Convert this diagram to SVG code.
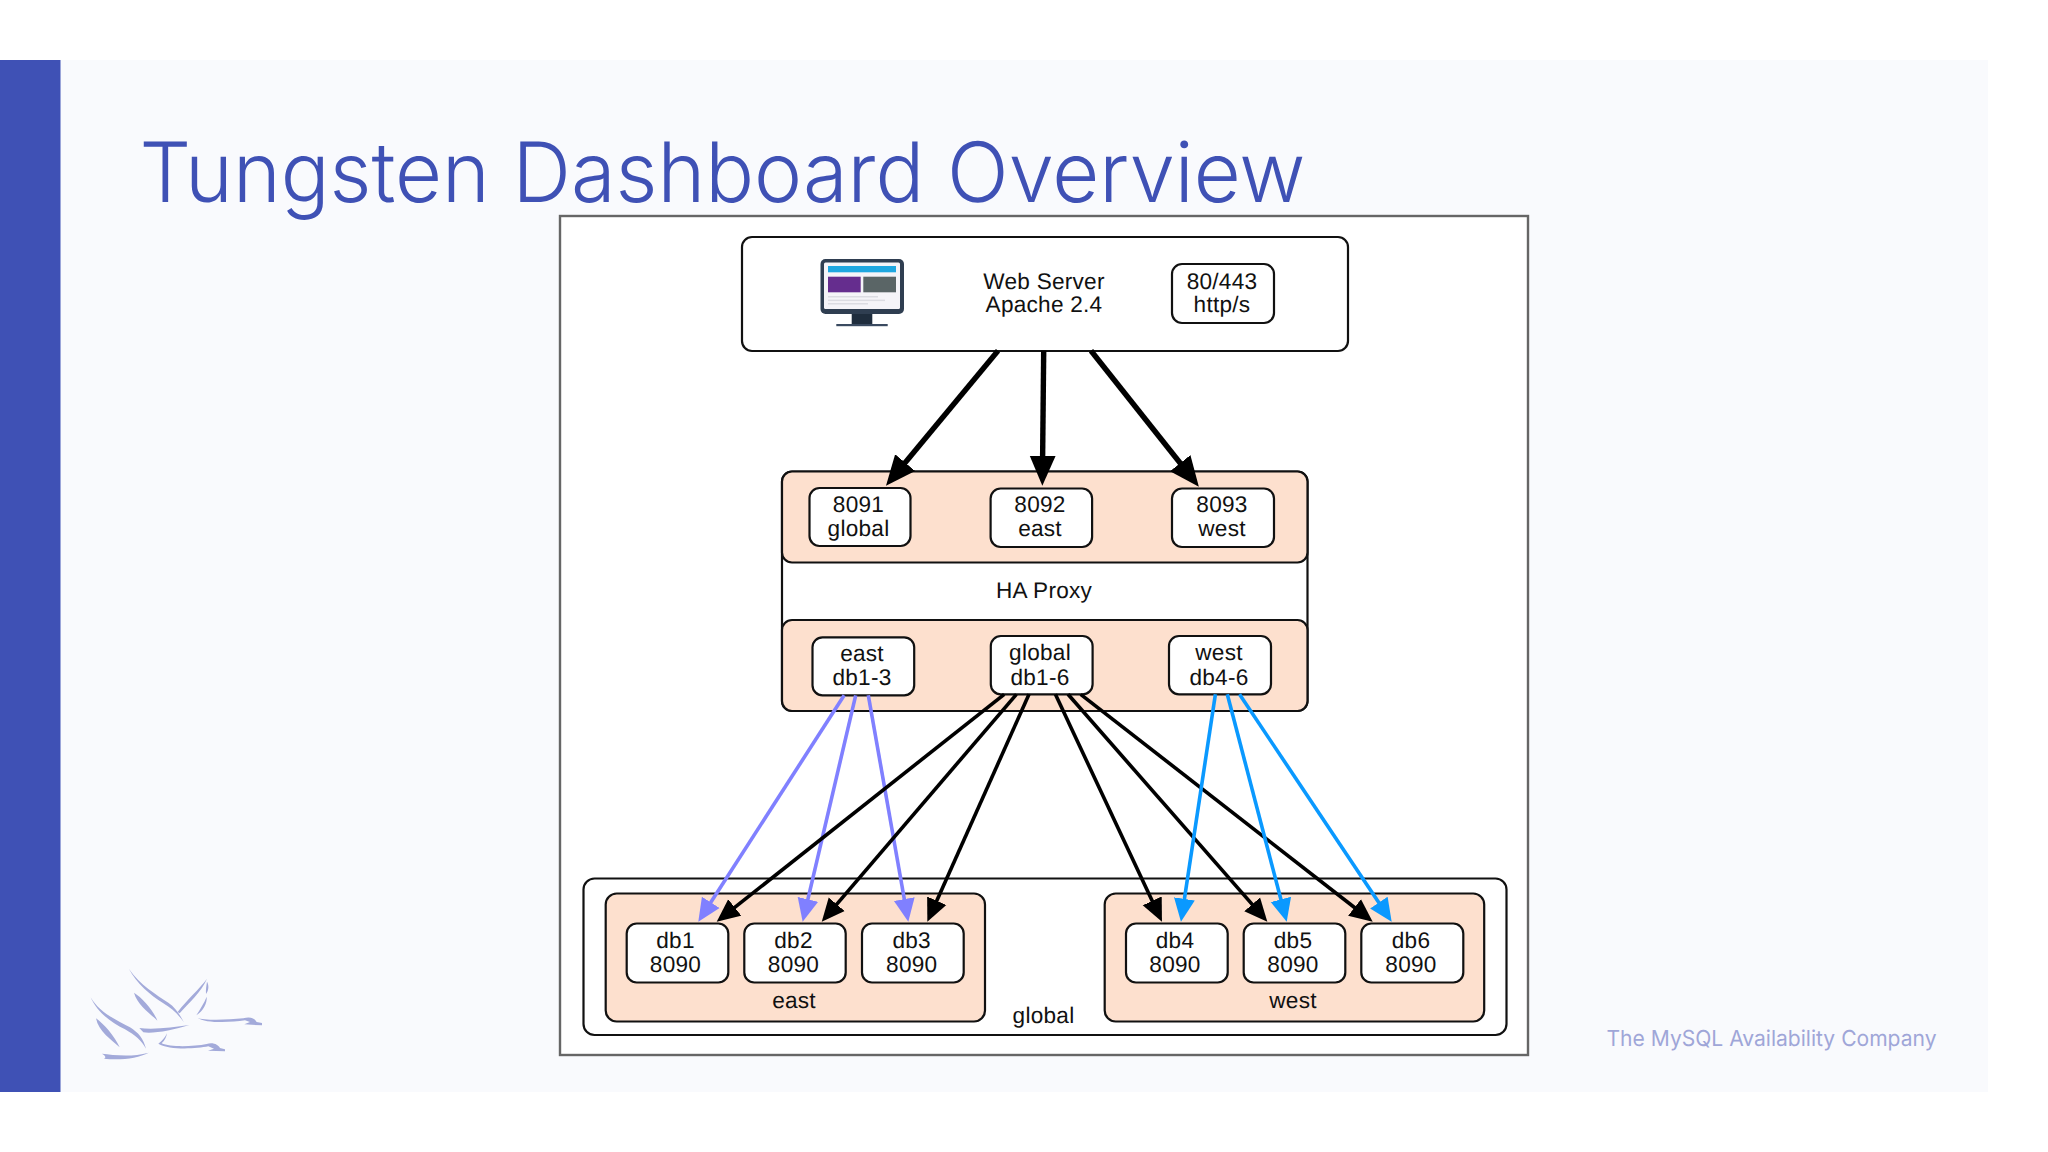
<svg xmlns="http://www.w3.org/2000/svg" width="2048" height="1152" viewBox="0 0 2048 1152">
<style>
text{font-family:"Liberation Sans",Arial,sans-serif;font-size:22.6px;letter-spacing:.25px;fill:#111;text-anchor:middle;text-rendering:geometricPrecision}
.title{font-family:Inter,Lato,"Noto Sans",sans-serif;font-weight:300;font-size:83px;letter-spacing:0;fill:#3f51b5;text-anchor:start}
.foot{font-family:Inter,Lato,"Noto Sans",sans-serif;font-weight:400;font-size:22px;letter-spacing:0;fill:#9fa6d8;text-anchor:start}
.box{fill:#fff;stroke:#111;stroke-width:2.2}
.peach{fill:#fde0ce;stroke:#111;stroke-width:2.2}
.frame{fill:#fff;stroke:#666;stroke-width:2.4}
.c{fill:none;stroke-width:3.6}
.k{stroke:#000}.p{stroke:#8080ff}.b{stroke:#0a99ff}
.t{fill:none;stroke:#000;stroke-width:5.4}
.swan{fill:#a3aada}
</style>
<defs>
<marker id="hT" markerUnits="userSpaceOnUse" markerWidth="32" markerHeight="28" refX="4" refY="14" orient="auto"><path d="M0 1L30 14L0 27Z" fill="#000"/></marker>
<marker id="hK" markerUnits="userSpaceOnUse" markerWidth="25" markerHeight="23" refX="4" refY="11" orient="auto"><path d="M0 .5L23 11L0 21.5Z" fill="#000"/></marker>
<marker id="hP" markerUnits="userSpaceOnUse" markerWidth="25" markerHeight="23" refX="4" refY="11" orient="auto"><path d="M0 .5L23 11L0 21.5Z" fill="#8080ff"/></marker>
<marker id="hB" markerUnits="userSpaceOnUse" markerWidth="25" markerHeight="23" refX="4" refY="11" orient="auto"><path d="M0 .5L23 11L0 21.5Z" fill="#0a99ff"/></marker>
</defs>
<rect width="2048" height="1152" fill="#fff"/>
<rect x="60" y="60" width="1928" height="1032" fill="#f9fafd"/>
<rect x="0" y="60" width="60.5" height="1032" fill="#3f51b5"/>
<text class="title" x="139.5" y="202" textLength="1166" lengthAdjust="spacingAndGlyphs">Tungsten Dashboard Overview</text>
<text class="foot" x="1606.5" y="1046" textLength="330" lengthAdjust="spacingAndGlyphs">The MySQL Availability Company</text>
<g id="logo" transform="translate(60 950) scale(.33333)">
<path class="swan" d="M207 57C240 105 290 135 325 158C345 172 358 190 371 216C352 190 335 175 310 160C270 135 230 100 207 57Z"/>
<path class="swan" d="M222 128C245 142 280 180 292 212C270 190 232 165 222 128Z"/>
<path class="swan" d="M441 86C420 115 380 150 353 186L359 190C385 160 425 125 441 86Z"/>
<path class="swan" d="M441 95C447 105 447 120 438 132C437 120 439 108 441 95Z"/>
<path class="swan" d="M440 140C442 160 430 182 409 196C420 178 432 160 440 140Z"/>
<path class="swan" d="M412 203C430 212 500 210 550 205C570 198 585 205 590 216L606 219L606 226L553 223L570 216L555 211C510 218 435 220 412 203Z"/>
<path class="swan" d="M238 234C280 240 340 232 388 225C340 240 280 252 250 247Z"/>
<path class="swan" d="M92 142C120 190 170 210 210 232C235 248 250 265 258 296C245 272 225 255 195 238C150 215 110 185 92 142Z"/>
<path class="swan" d="M108 205C130 220 165 260 179 292C155 270 115 245 108 205Z"/>
<path class="swan" d="M126 311C160 315 215 322 266 308C235 325 180 332 132 326C140 322 135 316 126 311Z"/>
<path class="swan" d="M321 250C318 268 310 275 305 280C330 292 400 290 440 282C460 276 475 285 480 294L495 298L495 304L444 302L462 296L445 289C410 296 330 302 295 281C308 272 315 262 321 250Z"/>
</g>
<g id="frame"><rect class="frame" x="560" y="216" width="968" height="839"/></g>
<g id="web-server">
<rect class="box" x="742" y="237" width="606" height="114" rx="10"/>
<g id="monitor-icon">
<rect x="820.5" y="259" width="83.5" height="55" rx="5" fill="#2f3e51"/>
<rect x="824" y="262.5" width="76" height="46.5" rx="1.5" fill="#f5f4f8"/>
<rect x="828" y="266" width="68" height="6.3" fill="#1fa7e0"/>
<rect x="828" y="276.7" width="32.7" height="15.6" fill="#652d8e"/>
<rect x="863.3" y="276.7" width="32.7" height="15.6" fill="#5a6566"/>
<rect x="828" y="296" width="50" height="1.5" fill="#dcdce2"/>
<rect x="828" y="299.6" width="57" height="1.5" fill="#dcdce2"/>
<rect x="828" y="303" width="40" height="1.5" fill="#dcdce2"/>
<rect x="851.7" y="314" width="20.6" height="10" fill="#1f2d3d"/>
<rect x="836.3" y="324" width="51.4" height="2.2" fill="#3a4a60"/>
</g>
<text x="1044" y="288.5">Web Server</text>
<text x="1044" y="312">Apache 2.4</text>
</g>
<g id="web-port">
<rect class="box" x="1172" y="264" width="102" height="59" rx="10"/>
<text x="1222" y="288.5">80/443</text>
<text x="1222" y="312">http/s</text>
</g>
<g id="ha-proxy">
<rect class="box" x="782" y="471.5" width="525.5" height="239.5" rx="10"/>
<rect class="peach" x="782" y="471.5" width="525.5" height="91" rx="10"/>
<rect class="peach" x="782" y="620" width="525.5" height="91" rx="10"/>
<text x="1044" y="597.5">HA Proxy</text>
</g>
<g id="p8091"><rect class="box" x="809.5" y="488" width="101" height="58" rx="10"/><text x="858.5" y="511.7">8091</text><text x="858.5" y="535.5">global</text></g>
<g id="p8092"><rect class="box" x="990.6" y="488.5" width="101.5" height="58.5" rx="10"/><text x="1040" y="511.7">8092</text><text x="1040" y="535.5">east</text></g>
<g id="p8093"><rect class="box" x="1172" y="488.5" width="102" height="58.5" rx="10"/><text x="1222" y="511.7">8093</text><text x="1222" y="535.5">west</text></g>
<g id="east-pool"><rect class="box" x="812.5" y="637.3" width="101.7" height="58" rx="10"/><text x="862" y="661">east</text><text x="862" y="685">db1-3</text></g>
<g id="global-pool"><rect class="box" x="990.8" y="636" width="101.8" height="58.3" rx="10"/><text x="1040" y="660">global</text><text x="1040" y="684.5">db1-6</text></g>
<g id="west-pool"><rect class="box" x="1169" y="636" width="102" height="58.3" rx="10"/><text x="1219" y="660">west</text><text x="1219" y="684.5">db4-6</text></g>
<g id="global-cluster"><rect class="box" x="583.5" y="878.5" width="923" height="156.5" rx="11"/><text x="1043.5" y="1023">global</text></g>
<g id="east-cluster"><rect class="peach" x="605.7" y="893.5" width="379.3" height="128" rx="11"/><text x="794" y="1008">east</text></g>
<g id="west-cluster"><rect class="peach" x="1104.7" y="893.5" width="379.5" height="128" rx="11"/><text x="1293" y="1008">west</text></g>
<g id="db1"><rect class="box" x="626.7" y="923.5" width="101.6" height="59" rx="10"/><text x="675.5" y="948">db1</text><text x="675.5" y="971.5">8090</text></g>
<g id="db2"><rect class="box" x="744.3" y="923.5" width="101.4" height="59" rx="10"/><text x="793.5" y="948">db2</text><text x="793.5" y="971.5">8090</text></g>
<g id="db3"><rect class="box" x="862" y="923.5" width="101.7" height="59" rx="10"/><text x="911.7" y="948">db3</text><text x="911.7" y="971.5">8090</text></g>
<g id="db4"><rect class="box" x="1126" y="923.5" width="101.7" height="59" rx="10"/><text x="1175" y="948">db4</text><text x="1175" y="971.5">8090</text></g>
<g id="db5"><rect class="box" x="1243.7" y="923.5" width="101.6" height="59" rx="10"/><text x="1293" y="948">db5</text><text x="1293" y="971.5">8090</text></g>
<g id="db6"><rect class="box" x="1361.3" y="923.5" width="102" height="59" rx="10"/><text x="1411" y="948">db6</text><text x="1411" y="971.5">8090</text></g>
<g id="connectors">
<path class="t" marker-end="url(#hT)" d="M998 350.7L902.6 465.7"/>
<path class="t" marker-end="url(#hT)" d="M1043.7 350.7L1042.6 459.7"/>
<path class="t" marker-end="url(#hT)" d="M1091 350.7L1182.7 466.3"/>
<path class="c p" marker-end="url(#hP)" d="M844.2 695.3L708.6 905.7"/>
<path class="c p" marker-end="url(#hP)" d="M855.7 695.3L807 903.2"/>
<path class="c p" marker-end="url(#hP)" d="M868.3 695.3L905 903"/>
<path class="c k" marker-end="url(#hK)" d="M1004.2 694.3L731.6 909.9"/>
<path class="c k" marker-end="url(#hK)" d="M1016.4 694.3L834.1 907.3"/>
<path class="c k" marker-end="url(#hK)" d="M1029 694.3L935.1 904.4"/>
<path class="c k" marker-end="url(#hK)" d="M1055.4 694.3L1153.9 904.5"/>
<path class="c k" marker-end="url(#hK)" d="M1068 694.3L1254.8 907.4"/>
<path class="c k" marker-end="url(#hK)" d="M1080.7 694.3L1357.7 910"/>
<path class="c b" marker-end="url(#hB)" d="M1215.4 694.3L1183.8 902.9"/>
<path class="c b" marker-end="url(#hB)" d="M1227.3 694.3L1281.9 903.3"/>
<path class="c b" marker-end="url(#hB)" d="M1239.5 694.3L1381.1 905.9"/>
</g>
</svg>
